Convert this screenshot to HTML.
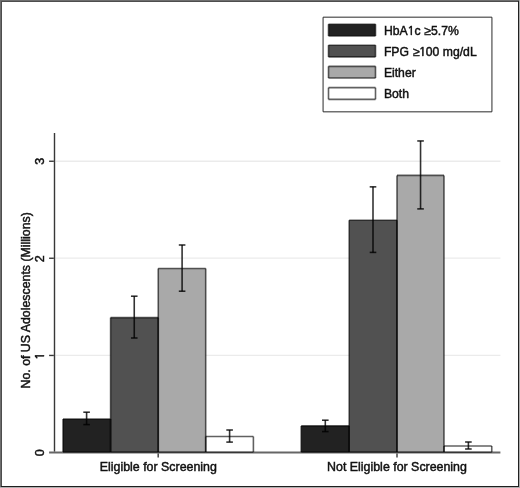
<!DOCTYPE html>
<html><head><meta charset="utf-8">
<style>
html,body{margin:0;padding:0;background:#fff;}
body{width:520px;height:488px;overflow:hidden;position:relative;}
svg{position:absolute;left:0;top:0;}
text{font-family:"Liberation Sans",Arial,sans-serif;fill:#111;stroke:#111;stroke-width:0.45px;}
.lg text{stroke-width:0.45px;}
.n1{font-family:NanumGothic,sans-serif;stroke-width:0.6px;}
</style></head><body>
<svg width="520" height="488" viewBox="0 0 520 488">
  <rect x="0" y="0" width="520" height="488" fill="#fff"/>
  <!-- frame -->
  <rect x="0" y="0" width="520" height="1" fill="#6e6e6e"/>
  <rect x="0" y="0" width="1" height="488" fill="#6e6e6e"/>
  <rect x="1" y="1" width="518" height="1" fill="#4e4e4e"/>
  <rect x="1" y="1" width="1" height="486" fill="#4e4e4e"/>
  <rect x="518" y="1" width="1" height="486" fill="#202020"/>
  <rect x="1" y="486" width="518" height="1" fill="#1e1e1e"/>
  <rect x="519" y="0" width="1" height="488" fill="#adadad"/>
  <rect x="0" y="487" width="520" height="1" fill="#b0b0b0"/>

  <!-- legend -->
  <rect x="323.1" y="17.3" width="168.8" height="94.5" fill="#fff"/>
  <g stroke="#000" stroke-opacity="0.56" stroke-width="1.5">
    <line x1="323.1" y1="17.3" x2="491.9" y2="17.3"/><line x1="491.9" y1="17.3" x2="491.9" y2="111.8"/><line x1="323.1" y1="111.8" x2="491.9" y2="111.8"/><line x1="323.1" y1="17.3" x2="323.1" y2="111.8"/>
  </g>
  <g stroke="none">
    <rect x="328.5" y="24.25" width="47.0" height="11.7" fill="#222"/>
    <rect x="328.5" y="45.2" width="47.0" height="11.7" fill="#515151"/>
    <rect x="328.5" y="66.35" width="47.0" height="11.7" fill="#a9a9a9"/>
    <rect x="328.5" y="87.65" width="47.0" height="11.7" fill="#fff"/>
  </g>
  <g stroke="#000" stroke-opacity="0.62" stroke-width="1.6">
    <line x1="328.5" y1="24.25" x2="375.5" y2="24.25"/><line x1="375.5" y1="24.25" x2="375.5" y2="35.95"/><line x1="328.5" y1="35.95" x2="375.5" y2="35.95"/><line x1="328.5" y1="24.25" x2="328.5" y2="35.95"/>
    <line x1="328.5" y1="45.2" x2="375.5" y2="45.2"/><line x1="375.5" y1="45.2" x2="375.5" y2="56.9"/><line x1="328.5" y1="56.9" x2="375.5" y2="56.9"/><line x1="328.5" y1="45.2" x2="328.5" y2="56.9"/>
    <line x1="328.5" y1="66.35" x2="375.5" y2="66.35"/><line x1="375.5" y1="66.35" x2="375.5" y2="78.05"/><line x1="328.5" y1="78.05" x2="375.5" y2="78.05"/><line x1="328.5" y1="66.35" x2="328.5" y2="78.05"/>
    <line x1="328.5" y1="87.65" x2="375.5" y2="87.65"/><line x1="375.5" y1="87.65" x2="375.5" y2="99.35"/><line x1="328.5" y1="99.35" x2="375.5" y2="99.35"/><line x1="328.5" y1="87.65" x2="328.5" y2="99.35"/>
  </g>
  <g class="lg" font-size="12.2">
    <text x="383.9" y="34.95">HbA<tspan class="n1" dx="-0.25">1</tspan><tspan dx="-0.35">c </tspan><tspan dx="0.7">≥</tspan><tspan dx="-0.2">5.7%</tspan></text>
    <text x="383.9" y="56.1">FPG <tspan dx="0.8">≥</tspan><tspan class="n1" dx="-1.05">1</tspan><tspan dx="-0.35">00 mg/dL</tspan></text>
    <text x="383.9" y="77.25">Either</text>
    <text x="383.9" y="98.4">Both</text>
  </g>

  <!-- gridlines -->
  <g stroke="#ebebeb" stroke-width="1.3">
    <line x1="55.5" y1="161.25" x2="500.4" y2="161.25"/>
    <line x1="55.5" y1="258.2" x2="500.4" y2="258.2"/>
    <line x1="55.5" y1="355.4" x2="500.4" y2="355.4"/>
  </g>
  <!-- x axis line -->
  <line x1="49.1" y1="452.5" x2="500.4" y2="452.5" stroke="#000" stroke-opacity="0.6" stroke-width="2.1"/>

  <!-- bars -->
  <g stroke="none">
    <rect x="63.0" y="419.0" width="47.6" height="33.0" fill="#222"/>
    <rect x="110.6" y="317.6" width="47.65" height="134.4" fill="#515151"/>
    <rect x="158.25" y="268.5" width="47.45" height="183.5" fill="#a9a9a9"/>
    <rect x="205.7" y="436.55" width="47.7" height="15.45" fill="#fff"/>
    <rect x="301.2" y="425.9" width="48.0" height="26.1" fill="#222"/>
    <rect x="349.2" y="220.2" width="47.8" height="231.8" fill="#515151"/>
    <rect x="397.0" y="175.4" width="47.0" height="276.6" fill="#a9a9a9"/>
    <rect x="444.0" y="446.0" width="47.75" height="6.0" fill="#fff"/>
  </g>
  <g stroke="#000" stroke-opacity="0.62" stroke-width="1.6">
    <line x1="63.0" y1="419.0" x2="110.6" y2="419.0"/><line x1="110.6" y1="419.0" x2="110.6" y2="452.0"/><line x1="63.0" y1="452.0" x2="110.6" y2="452.0"/><line x1="63.0" y1="419.0" x2="63.0" y2="452.0"/>
    <line x1="110.6" y1="317.6" x2="158.25" y2="317.6"/><line x1="158.25" y1="317.6" x2="158.25" y2="452.0"/><line x1="110.6" y1="452.0" x2="158.25" y2="452.0"/><line x1="110.6" y1="317.6" x2="110.6" y2="452.0"/>
    <line x1="158.25" y1="268.5" x2="205.7" y2="268.5"/><line x1="205.7" y1="268.5" x2="205.7" y2="452.0"/><line x1="158.25" y1="452.0" x2="205.7" y2="452.0"/><line x1="158.25" y1="268.5" x2="158.25" y2="452.0"/>
    <line x1="205.7" y1="436.55" x2="253.4" y2="436.55"/><line x1="253.4" y1="436.55" x2="253.4" y2="452.0"/><line x1="205.7" y1="452.0" x2="253.4" y2="452.0"/><line x1="205.7" y1="436.55" x2="205.7" y2="452.0"/>
    <line x1="301.2" y1="425.9" x2="349.2" y2="425.9"/><line x1="349.2" y1="425.9" x2="349.2" y2="452.0"/><line x1="301.2" y1="452.0" x2="349.2" y2="452.0"/><line x1="301.2" y1="425.9" x2="301.2" y2="452.0"/>
    <line x1="349.2" y1="220.2" x2="397.0" y2="220.2"/><line x1="397.0" y1="220.2" x2="397.0" y2="452.0"/><line x1="349.2" y1="452.0" x2="397.0" y2="452.0"/><line x1="349.2" y1="220.2" x2="349.2" y2="452.0"/>
    <line x1="397.0" y1="175.4" x2="444.0" y2="175.4"/><line x1="444.0" y1="175.4" x2="444.0" y2="452.0"/><line x1="397.0" y1="452.0" x2="444.0" y2="452.0"/><line x1="397.0" y1="175.4" x2="397.0" y2="452.0"/>
    <line x1="444.0" y1="446.0" x2="491.75" y2="446.0"/><line x1="491.75" y1="446.0" x2="491.75" y2="452.0"/><line x1="444.0" y1="452.0" x2="491.75" y2="452.0"/><line x1="444.0" y1="446.0" x2="444.0" y2="452.0"/>
  </g>

  <!-- error bars -->
  <g stroke="#000" stroke-opacity="0.8" stroke-width="1.6">
    <line x1="86.6" y1="412.2" x2="86.6" y2="424.6"/><line x1="83.3" y1="412.2" x2="89.9" y2="412.2"/><line x1="83.3" y1="424.6" x2="89.9" y2="424.6"/>
    <line x1="134.25" y1="296.2" x2="134.25" y2="338.0"/><line x1="130.95" y1="296.2" x2="137.55" y2="296.2"/><line x1="130.95" y1="338.0" x2="137.55" y2="338.0"/>
    <line x1="182.1" y1="245.0" x2="182.1" y2="291.2"/><line x1="178.8" y1="245.0" x2="185.4" y2="245.0"/><line x1="178.8" y1="291.2" x2="185.4" y2="291.2"/>
    <line x1="229.6" y1="430.0" x2="229.6" y2="442.1"/><line x1="226.3" y1="430.0" x2="232.9" y2="430.0"/><line x1="226.3" y1="442.1" x2="232.9" y2="442.1"/>
    <line x1="325.3" y1="420.2" x2="325.3" y2="431.6"/><line x1="322.0" y1="420.2" x2="328.6" y2="420.2"/><line x1="322.0" y1="431.6" x2="328.6" y2="431.6"/>
    <line x1="373.0" y1="186.85" x2="373.0" y2="252.4"/><line x1="369.7" y1="186.85" x2="376.3" y2="186.85"/><line x1="369.7" y1="252.4" x2="376.3" y2="252.4"/>
    <line x1="420.55" y1="140.95" x2="420.55" y2="208.9"/><line x1="417.25" y1="140.95" x2="423.85" y2="140.95"/><line x1="417.25" y1="208.9" x2="423.85" y2="208.9"/>
    <line x1="468.4" y1="442.0" x2="468.4" y2="449.0"/><line x1="465.1" y1="442.0" x2="471.7" y2="442.0"/><line x1="465.1" y1="449.0" x2="471.7" y2="449.0"/>
  </g>

  <!-- y axis -->
  <g stroke="#000" stroke-opacity="0.78" stroke-width="1.4">
    <line x1="54.5" y1="132.9" x2="54.5" y2="451.6"/>
    <line x1="49.1" y1="161.25" x2="53.8" y2="161.25"/>
    <line x1="49.1" y1="258.25" x2="53.8" y2="258.25"/>
    <line x1="49.1" y1="355.45" x2="53.8" y2="355.45"/>
  </g>
  <!-- x ticks -->
  <g stroke="#000" stroke-opacity="0.68" stroke-width="1.6">
    <line x1="158.2" y1="453.5" x2="158.2" y2="457.6"/>
    <line x1="397.0" y1="453.5" x2="397.0" y2="457.6"/>
  </g>

  <!-- y tick labels (rotated) -->
  <g font-size="12.5" text-anchor="middle">
    <text transform="translate(43.8 161.25) rotate(-90)">3</text>
    <text transform="translate(43.8 258.8) rotate(-90)">2</text>
    <text transform="translate(43.8 356.2) rotate(-90)" style="font-family:NanumGothic,sans-serif;stroke-width:0.6px">1</text>
    <text transform="translate(43.8 452.7) rotate(-90)">0</text>
  </g>
  <text font-size="12.35" text-anchor="middle" transform="translate(30.2 300.35) rotate(-90)">No. of US Adolescents (Millions)</text>

  <!-- x labels -->
  <g font-size="12.4" text-anchor="middle">
    <text x="158.3" y="470.6">Eligible for Screening</text>
    <text x="397.0" y="470.6">Not Eligible for Screening</text>
  </g>
</svg>
</body></html>
